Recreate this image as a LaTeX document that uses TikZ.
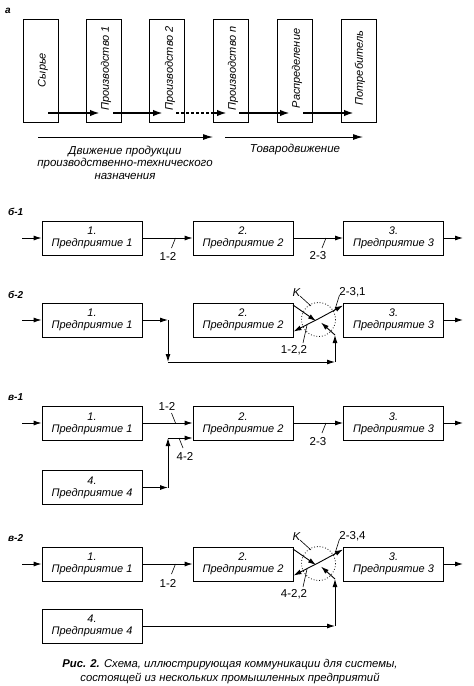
\documentclass[tikz,border=0pt]{standalone}
\usepackage{fontspec}
\setmainfont{Liberation Sans}
\usetikzlibrary{arrows.meta}
\begin{document}
\begin{tikzpicture}[x=1pt,y=-1pt,
 bx/.style={draw, line width=0.8pt, minimum width=100pt, minimum height=34pt, inner sep=0pt, align=center, font=\itshape\fontsize{11}{12}\selectfont},
 vb/.style={draw, line width=0.8pt, minimum width=35pt, minimum height=103pt, inner sep=0pt},
 vt/.style={rotate=90, font=\itshape\fontsize{11}{12}\selectfont, inner sep=0pt},
 ar/.style={line width=0.9pt, -{Latex[length=8pt,width=5pt]}},
 thk/.style={line width=2pt, -{Latex[length=10pt,width=6.5pt]}},
 lng/.style={line width=1pt, -{Latex[length=10pt,width=6pt]}},
 num/.style={font=\fontsize{11.5}{12}\selectfont, inner sep=0pt},
 kl/.style={font=\itshape\fontsize{11.5}{12}\selectfont, inner sep=0pt},
 tck/.style={line width=0.6pt},
 plbl/.style={font=\bfseries\itshape\fontsize{10}{12}\selectfont, anchor=west, inner sep=0pt},
 txt/.style={font=\itshape\fontsize{11.5}{12.5}\selectfont, inner sep=0pt, align=center},
 crc/.style={dotted, line width=0.8pt}
]
\useasboundingbox (0,0) rectangle (474,686);

% ---------- panel a ----------
\node[plbl] (la) at (5,11) {а};
\node[vb] (a1) at (40.5,70.5) {};
\node[vb] (a2) at (103.5,70.5) {};
\node[vb] (a3) at (167,70.5) {};
\node[vb] (a4) at (231,70.5) {};
\node[vb] (a5) at (294.5,70.5) {};
\node[vb] (a6) at (358.5,70.5) {};
\node[vt] (t1) at (43,70) {Сырье};
\node[vt] (t2) at (106,68.5) {Производство 1};
\node[vt] (t3) at (170,68.5) {Производство 2};
\node[vt] (t4) at (233,68.5) {Производство \textit{n}};
\node[vt] (t5) at (297,68.5) {Распределение};
\node[vt] (t6) at (360,68) {Потребитель};
\coordinate (s1) at (48,113); \coordinate (e1) at (100,113);
\coordinate (s2) at (113,113); \coordinate (e2) at (163,113);
\coordinate (s3) at (176,113); \coordinate (m3) at (212,113); \coordinate (e3) at (227,113);
\coordinate (s4) at (239,113); \coordinate (e4) at (290,113);
\coordinate (s5) at (303,113); \coordinate (e5) at (354,113);
\draw[thk] (s1) -- (e1);
\draw[thk] (s2) -- (e2);
\draw[line width=2pt, dash pattern=on 3pt off 2pt] (s3) -- (m3);
\draw[thk] (m3) -- (e3);
\draw[thk] (s4) -- (e4);
\draw[thk] (s5) -- (e5);
\coordinate (L1s) at (38,137); \coordinate (L1e) at (213,137);
\coordinate (L2s) at (225,137); \coordinate (L2e) at (363,137);
\draw[lng] (L1s) -- (L1e);
\draw[lng] (L2s) -- (L2e);
\node[txt] (d1) at (125,162.5) {Движение продукции\\производственно-технического\\назначения};
\node[txt] (d2) at (295,150) {Товародвижение};

% ---------- panel б-1 ----------
\node[plbl] (lb1) at (8,212) {б-1};
\node[bx] (p11) at (92,238) {1.\\Предприятие 1};
\node[bx] (p12) at (243,238) {2.\\Предприятие 2};
\node[bx] (p13) at (393.5,238) {3.\\Предприятие 3};
\coordinate (in1) at (22,238); \coordinate (out1) at (463,238);
\draw[ar] (in1) -- (p11.west);
\draw[ar] (p11.east) -- (p12.west);
\draw[ar] (p12.east) -- (p13.west);
\draw[ar] (p13.east) -- (out1);
\coordinate (k1a) at (175.5,238); \coordinate (k1b) at (171.5,248);
\draw[tck] (k1a) -- (k1b);
\node[num] (n12) at (168,256) {1-2};
\coordinate (k2a) at (326,238); \coordinate (k2b) at (322,248);
\draw[tck] (k2a) -- (k2b);
\node[num] (n23) at (318,256) {2-3};

% ---------- panel б-2 ----------
\node[plbl] (lb2) at (8,295) {б-2};
\node[bx] (p21) at (92,320) {1.\\Предприятие 1};
\node[bx] (p22) at (243,320) {2.\\Предприятие 2};
\node[bx] (p23) at (393.5,320) {3.\\Предприятие 3};
\coordinate (in2) at (22,320); \coordinate (out2) at (463,320);
\draw[ar] (in2) -- (p21.west);
\draw[ar] (p23.east) -- (out2);
\coordinate (c2a) at (168,320); \coordinate (c2b) at (168,362);
\coordinate (c2c) at (335,362); \coordinate (c2d) at (335,335);
\draw[ar] (p21.east) -- (c2a);
\draw[ar] (c2a) -- (c2b);
\draw[ar] (c2b) -- (c2c);
\draw[ar] (c2c) -- (c2d);
\coordinate (x2c) at (318.5,319.5);
\draw[crc] (x2c) circle (17);
\coordinate (x2As) at (293,305); \coordinate (x2Ae) at (316,321);
\coordinate (x2m) at (319,318.5);
\coordinate (x2B) at (343,305.5); \coordinate (x2D) at (293.5,331.5);
\coordinate (x2Ce) at (321,322.5);
\draw[ar] (x2As) -- (x2Ae);
\draw[ar] (x2m) -- (x2B);
\draw[ar] (x2m) -- (x2D);
\draw[ar] (c2d) -- (x2Ce);
\node[kl] (K2) at (296.5,293) {K};
\coordinate (K2a) at (300,296); \coordinate (K2b) at (311,306);
\draw[tck] (K2a) -- (K2b);
\node[num] (n231) at (352.5,292) {2-3,1};
\coordinate (q2a) at (339.5,295); \coordinate (q2b) at (334.5,311);
\draw[tck] (q2a) -- (q2b);
\node[num] (n122) at (294,350) {1-2,2};
\coordinate (r2a) at (303,343); \coordinate (r2b) at (307,325);
\draw[tck] (r2a) -- (r2b);

% ---------- panel в-1 ----------
\node[plbl] (lc1) at (8,397) {в-1};
\node[bx] (p31) at (92,423.5) {1.\\Предприятие 1};
\node[bx] (p32) at (243,423.5) {2.\\Предприятие 2};
\node[bx] (p33) at (393.5,423.5) {3.\\Предприятие 3};
\node[bx] (p34) at (92,487.5) {4.\\Предприятие 4};
\coordinate (in3) at (22,423); \coordinate (out3) at (463,423);
\draw[ar] (in3) -- (p31.west |- in3);
\draw[ar] (p31.east |- in3) -- (p32.west |- in3);
\draw[ar] (p32.east |- in3) -- (p33.west |- in3);
\draw[ar] (p33.east |- in3) -- (out3);
\coordinate (c3a) at (168,487.5); \coordinate (c3b) at (168,438);
\draw[ar] (p34.east) -- (c3a);
\draw[ar] (c3a) -- (c3b);
\draw[ar] (c3b) -- (p32.west |- c3b);
\node[num] (n312) at (167,406.5) {1-2};
\coordinate (k3a) at (171.5,413); \coordinate (k3b) at (175.5,423);
\draw[tck] (k3a) -- (k3b);
\node[num] (n342) at (185,456.5) {4-2};
\coordinate (k4a) at (179,438); \coordinate (k4b) at (183,448);
\draw[tck] (k4a) -- (k4b);
\coordinate (k5a) at (326,423); \coordinate (k5b) at (322,433);
\draw[tck] (k5a) -- (k5b);
\node[num] (n323) at (318,442) {2-3};

% ---------- panel в-2 ----------
\node[plbl] (lc2) at (8,538) {в-2};
\node[bx] (p41) at (92,564) {1.\\Предприятие 1};
\node[bx] (p42) at (243,564) {2.\\Предприятие 2};
\node[bx] (p43) at (393.5,564) {3.\\Предприятие 3};
\node[bx] (p44) at (92,626) {4.\\Предприятие 4};
\coordinate (in4) at (22,564); \coordinate (out4) at (463,564);
\draw[ar] (in4) -- (p41.west);
\draw[ar] (p41.east) -- (p42.west);
\draw[ar] (p43.east) -- (out4);
\coordinate (k6a) at (175.5,564); \coordinate (k6b) at (171.5,574);
\draw[tck] (k6a) -- (k6b);
\node[num] (n412) at (168,583) {1-2};
\coordinate (c4c) at (335,626); \coordinate (c4d) at (335,579);
\draw[ar] (p44.east) -- (c4c);
\draw[ar] (c4c) -- (c4d);
\coordinate (x4c) at (318.5,563.5);
\draw[crc] (x4c) circle (17);
\coordinate (x4As) at (293,549); \coordinate (x4Ae) at (316,565);
\coordinate (x4m) at (319,562.5);
\coordinate (x4B) at (343,549.5); \coordinate (x4D) at (293.5,575.5);
\coordinate (x4Ce) at (321,566.5);
\draw[ar] (x4As) -- (x4Ae);
\draw[ar] (x4m) -- (x4B);
\draw[ar] (x4m) -- (x4D);
\draw[ar] (c4d) -- (x4Ce);
\node[kl] (K4) at (296.5,537) {K};
\coordinate (K4a) at (300,540); \coordinate (K4b) at (311,550);
\draw[tck] (K4a) -- (K4b);
\node[num] (n234) at (352.5,536) {2-3,4};
\coordinate (q4a) at (339.5,539); \coordinate (q4b) at (334.5,555);
\draw[tck] (q4a) -- (q4b);
\node[num] (n422) at (294,594) {4-2,2};
\coordinate (r4a) at (303,587); \coordinate (r4b) at (307,569);
\draw[tck] (r4a) -- (r4b);

% ---------- caption ----------
\node[txt, font=\itshape\fontsize{11.3}{14}\selectfont] (cap) at (230,672) {\textbf{Рис. 2.} Схема, иллюстрирующая коммуникации для системы,\\состоящей из нескольких промышленных предприятий};
\end{tikzpicture}
\end{document}
